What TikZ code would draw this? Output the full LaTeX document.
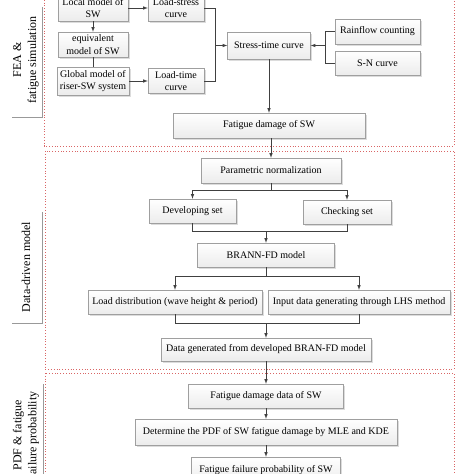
\documentclass[tikz,border=0pt]{standalone}
\usepackage{fontspec}
\setmainfont{Liberation Serif}
\usetikzlibrary{positioning,shadows}

\begin{document}
\begin{tikzpicture}[x=1pt,y=-1pt,>=latex,
      block/.style={draw=gray!75,top color=white,bottom color=gray!15,
        drop shadow={shadow xshift=1.5pt,shadow yshift=-1.5pt,fill=gray!55},
        align=center,inner sep=1pt,font=\fontsize{10}{12.5}\selectfont},
      link/.style={draw=black!75,line width=0.6pt},
      arr/.style={link,->},
      zone/.style={draw=red!75!black!60,dotted,line width=0.8pt},
      side/.style={draw=gray!80,line width=0.6pt},
      sidetext/.style={rotate=90,align=center,font=\fontsize{12}{15}\selectfont}]
    \useasboundingbox (0,0) rectangle (474,474);
    % dotted frames
    \draw[zone] (44,-3) rectangle (454,146);
    \draw[zone] (45,151) rectangle (454,369);
    \draw[zone] (45,373) rectangle (454,490);
    % FEA & fatigue simulation
    \node[block,minimum width=70pt,minimum height=26pt] (local) at (93,8) {Local model of\\SW};
    \node[block,minimum width=56pt,minimum height=26pt] (ldstress) at (176,8) {Load-stress\\curve};
    \node[block,minimum width=70pt,minimum height=25pt] (equiv) at (93,44.5) {equivalent\\model of SW};
    \node[block,minimum width=72pt,minimum height=28pt] (global) at (93,81) {Global model of\\riser-SW system};
    \node[block,minimum width=56pt,minimum height=25pt] (ldtime) at (176,81) {Load-time\\curve};
    \node[block,minimum width=83pt,minimum height=27pt] (stime) at (269,45.5) {Stress-time curve};
    \node[block,minimum width=85pt,minimum height=25pt] (rainflow) at (377.5,31.5) {Rainflow counting};
    \node[block,minimum width=85pt,minimum height=24pt] (sn) at (377.5,63) {S-N curve};
    \node[block,minimum width=192pt,minimum height=25pt] (fdsw) at (269,125.5) {Fatigue damage of SW};
    % data-driven model
    \node[block,minimum width=140pt,minimum height=25pt] (pnorm) at (271,170.5) {Parametric normalization};
    \node[block,minimum width=87pt,minimum height=24pt] (devset) at (192.5,211) {Developing set};
    \node[block,minimum width=88pt,minimum height=24pt] (chkset) at (347,212) {Checking set};
    \node[block,minimum width=137pt,minimum height=24pt] (brann) at (266,255) {BRANN-FD model};
    \node[block,minimum width=174pt,minimum height=24pt] (loaddist) at (175,302) {Load distribution (wave height \& period)};
    \node[block,minimum width=182pt,minimum height=24pt] (input) at (359,302) {Input data generating through LHS method};
    \node[block,minimum width=210pt,minimum height=23pt] (datagen) at (266,349.5) {Data generated from developed BRAN-FD model};
    % PDF & failure probability
    \node[block,minimum width=155pt,minimum height=24pt] (fddata) at (266,396) {Fatigue damage data of SW};
    \node[block,minimum width=262pt,minimum height=26pt] (pdf) at (266,432) {Determine the PDF of SW fatigue damage by MLE and KDE};
    \node[block,minimum width=149pt,minimum height=26pt] (ffp) at (266,470) {Fatigue failure probability of SW};
    % side labels
    \node[sidetext] (featext) at (26,60) {FEA \&\\fatigue simulation};
    \node[sidetext] (ddtext) at (26,267) {Data-driven model};
    \node[sidetext] (pdftext) at (26,435) {PDF \& fatigue\\failure probability};
    \draw[side] (42,7) -- (42,117) -- (12,117);
    \draw[side] (42,212) -- (42,323) -- (12,323);
    \draw[side] (43,384) -- (43,490);
    % junctions
    \coordinate (m1) at (215,45.5);
    \coordinate (m2) at (325,45.5);
    \coordinate (b1) at (271,190);
    \coordinate (j1) at (266,231);
    \coordinate (b2) at (266,276);
    \coordinate (j2) at (266,323);
    % connectors
    \draw[arr] (local) -- (ldstress);
    \draw[arr] (local) -- (equiv);
    \draw[link] (equiv) -- (global);
    \draw[arr] (global) -- (ldtime);
    \draw[link] (ldstress.east) -| (m1);
    \draw[link] (ldtime.east) -| (m1);
    \draw[arr] (m1) -- (stime);
    \draw[link] (rainflow.west) -| (m2);
    \draw[link] (sn.west) -| (m2);
    \draw[arr] (m2) -- (stime);
    \draw[arr] (stime) -- (fdsw);
    \draw[arr] (fdsw.south -| pnorm) -- (pnorm);
    \draw[link] (pnorm) -- (b1);
    \draw[arr] (b1) -| (devset);
    \draw[arr] (b1) -| (chkset);
    \draw[link] (devset) |- (j1);
    \draw[link] (chkset) |- (j1);
    \draw[arr] (j1) -- (brann);
    \draw[link] (brann) -- (b2);
    \draw[arr] (b2) -| (loaddist);
    \draw[arr] (b2) -| (input);
    \draw[link] (loaddist) |- (j2);
    \draw[link] (input) |- (j2);
    \draw[arr] (j2) -- (datagen);
    \draw[arr] (datagen) -- (fddata);
    \draw[arr] (fddata) -- (pdf);
    \draw[arr] (pdf) -- (ffp);
\end{tikzpicture}
\end{document}
